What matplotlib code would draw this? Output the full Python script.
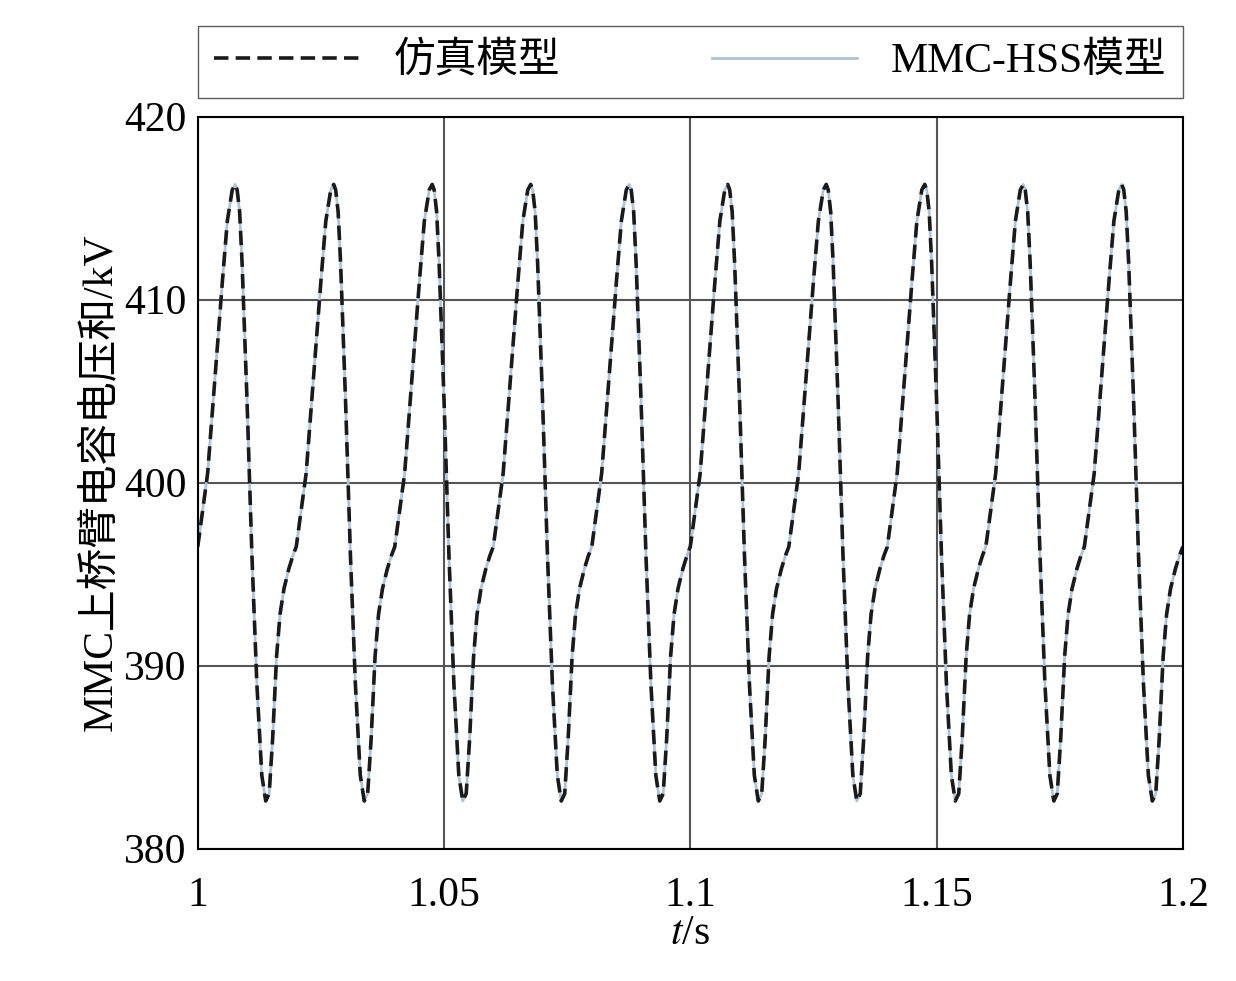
import numpy as np
import matplotlib.pyplot as plt

plt.rcParams['font.family'] = ['Liberation Serif', 'Noto Sans CJK SC']
plt.rcParams['mathtext.fontset'] = 'stix'

# one period (20 ms) of the arm capacitor voltage sum
phase_ms = [0.0, 1.0, 2.0, 3.0, 4.0, 5.0, 6.0, 7.0, 7.6, 8.0, 8.5, 9.0, 10.0, 11.0,
            12.0, 13.0, 13.8, 14.5, 15.2, 16.0, 16.7, 17.5, 18.5, 19.3]
phase_kv = [396.5, 398.5, 400.5, 404.0, 407.5, 411.0, 414.3, 416.0, 416.3, 416.0, 414.8,
            412.0, 404.5, 396.0, 389.0, 384.0, 382.6, 383.0, 386.0, 390.5, 392.8, 394.2,
            395.3, 396.0]
n_periods = 10

t = np.concatenate([1.0 + k * 0.02 + np.array(phase_ms) / 1000 for k in range(n_periods)] + [[1.2]])
v = np.concatenate([phase_kv] * n_periods + [[396.5]])

fig = plt.figure(figsize=(12.36, 9.81), dpi=100)
ax = fig.add_axes([0.160, 0.135, 0.797, 0.746])
ax.plot(t, v, color='#a9c4dc', lw=2.0, label='MMC-HSS模型')
ax.plot(t, v, color='#1a1a1a', lw=2.6, ls=(0, (4, 2)), label='仿真模型')
ax.set_xlim(1.0, 1.2)
ax.set_ylim(380, 420)
ax.set_xticks([1.0, 1.05, 1.1, 1.15, 1.2])
ax.set_xticklabels(['1', '1.05', '1.1', '1.15', '1.2'])
ax.set_yticks([380, 390, 400, 410, 420])
ax.tick_params(labelsize=30, direction='in', length=0)
ax.tick_params(axis='x', pad=20)
ax.tick_params(axis='y', pad=8)
ax.grid(True, color='#555555', lw=1.5)
for s in ax.spines.values():
    s.set_linewidth(1.5)
ax.set_xlabel('$t$/s', fontsize=30, labelpad=0)
ax.set_ylabel('MMC上桥臂电容电压和/kV', fontsize=30, labelpad=2)

h, l = ax.get_legend_handles_labels()
fig.legend(h[::-1], l[::-1], loc='lower left', bbox_to_anchor=(0.160, 0.90, 0.797, 0.09),
           mode='expand', ncol=2, fontsize=30, frameon=True, fancybox=False,
           edgecolor='#333333', handlelength=3.5, borderaxespad=0)

fig.savefig('out.png', dpi=100)
